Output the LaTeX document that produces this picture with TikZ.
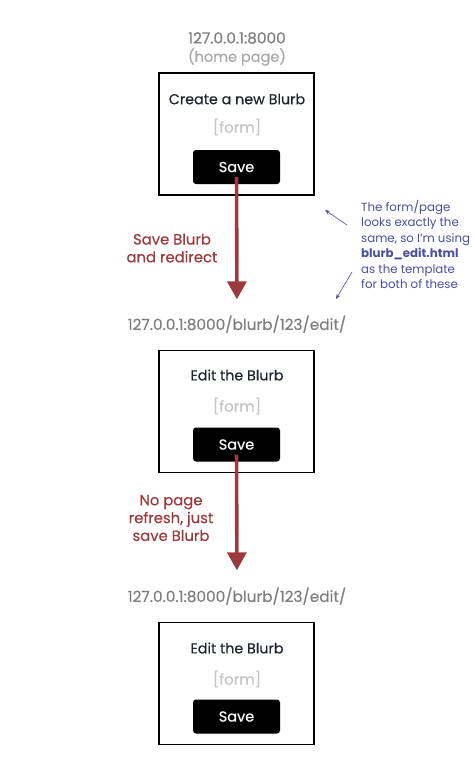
\documentclass[tikz,border=0pt]{standalone}
\usepackage{fontspec}
\setmainfont{Poppins}
\newfontfamily\medfont[FakeBold=0.4]{Poppins}
\usetikzlibrary{arrows.meta,positioning,calc}
\definecolor{blUrl}{HTML}{7E7E80}
\definecolor{blHome}{HTML}{A9A9AB}
\definecolor{blForm}{HTML}{C4C4C6}
\definecolor{blTitle}{HTML}{1F2530}
\definecolor{blRed}{HTML}{9C3A3E}
\definecolor{blBlue}{HTML}{4A4F9B}
\tikzset{
  urltext/.style={font=\medfont\fontsize{15.3}{17}\selectfont, text=blUrl, inner sep=0pt},
  hometext/.style={font=\medfont\fontsize{14.5}{17}\selectfont, text=blHome, inner sep=0pt},
  pagebox/.style={draw=black, line width=1.6pt, minimum width=155pt, minimum height=122pt, inner sep=0pt},
  pagetitle/.style={font=\medfont\fontsize{14.3}{17}\selectfont, text=blTitle, inner sep=0pt},
  formtext/.style={font=\medfont\fontsize{15}{17}\selectfont, text=blForm, inner sep=0pt},
  savebtn/.style={fill=black, rounded corners=3pt, minimum width=87pt, minimum height=34pt, inner sep=0pt, text=white, font=\medfont\fontsize{14.5}{17}\selectfont},
  flowarr/.style={-{Triangle[length=18pt,width=19pt]}, line width=3.6pt, draw=blRed},
  flowlabel/.style={text=blRed, align=center, font=\medfont\fontsize{14.8}{17.8}\selectfont, inner sep=0pt},
  notetext/.style={text=blBlue, align=left, font=\fontsize{11.8}{15.4}\selectfont, inner sep=0pt},
  notearr/.style={-{Stealth[length=5pt,width=4pt]}, line width=0.6pt, draw=blBlue}
}
\begin{document}
\begin{tikzpicture}[x=1pt,y=-1pt]
  \useasboundingbox (0,0) rectangle (474,773);
  % home page
  \node[urltext] (url1) at (237,38) {127.0.0.1:8000};
  \node[hometext] (home1) at (237,57) {(home page)};
  \node[pagebox] (page1) at (236.5,134) {};
  \node[pagetitle] (title1) at (237,99) {Create a new Blurb};
  \node[formtext] (form1) at (237,127) {[form]};
  \node[savebtn] (save1) at (236.5,167) {Save};
  % first edit page
  \node[urltext] (url2) at (237,324) {127.0.0.1:8000/blurb/123/edit/};
  \node[pagebox] (page2) at (236.5,411.5) {};
  \node[pagetitle] (title2) at (237,375) {Edit the Blurb};
  \node[formtext] (form2) at (237,406) {[form]};
  \node[savebtn] (save2) at (236.5,444.5) {Save};
  % second edit page
  \node[urltext] (url3) at (237,596) {127.0.0.1:8000/blurb/123/edit/};
  \node[pagebox] (page3) at (236.5,683.5) {};
  \node[pagetitle] (title3) at (237,648) {Edit the Blurb};
  \node[formtext] (form3) at (237,679) {[form]};
  \node[savebtn] (save3) at (236.5,716.5) {Save};
  % flow arrows
  \draw[flowarr, shorten <=-7pt, shorten >=16pt] (save1) -- (url2);
  \draw[flowarr, shorten <=-7pt, shorten >=17pt] (save2) -- (url3);
  \node[flowlabel] (step1) at (172,248) {Save Blurb\\and redirect};
  \node[flowlabel] (step2) at (171,518) {No page\\refresh, just\\save Blurb};
  % side note
  \node[notetext, anchor=west] (note) at (361,244.5) {The form/page\\looks exactly the\\same, so I'm using\\\textbf{blurb\_edit.html}\\as the template\\for both of these};
  \coordinate (n1s) at (347,225);
  \coordinate (n1e) at (325,210);
  \coordinate (n2s) at (352,272);
  \coordinate (n2e) at (336,299);
  \draw[notearr] (n1s) -- (n1e);
  \draw[notearr] (n2s) -- (n2e);
\end{tikzpicture}
\end{document}
